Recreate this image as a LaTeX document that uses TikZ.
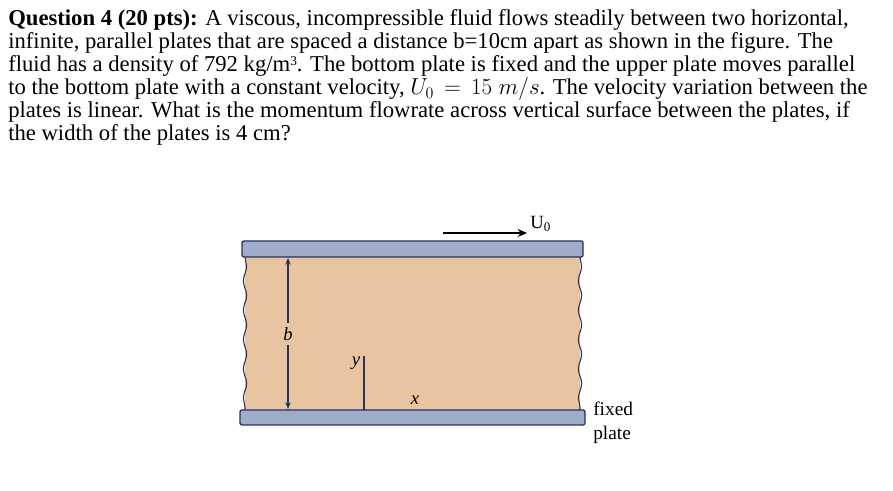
\documentclass[tikz,border=0pt]{standalone}
\usepackage{fontspec}
\setmainfont{Liberation Serif}
\usetikzlibrary{arrows.meta,decorations.pathmorphing}
\definecolor{fluid}{RGB}{233,196,160}
\definecolor{plate}{RGB}{160,172,204}
\definecolor{edge}{RGB}{40,50,90}
\tikzset{txt/.style={anchor=base west,inner sep=0pt,font=\fontsize{17}{19}\selectfont},
lab/.style={inner sep=0pt,font=\fontsize{14}{16}\selectfont},
platebox/.style={fill=plate,draw=edge,line width=1pt,rounded corners=1.5pt},
wav/.style={draw=edge,line width=0.8pt,decorate,decoration={snake,amplitude=1.2pt,segment length=22pt}}}
\begin{document}
\begin{tikzpicture}[x=0.75pt,y=-0.75pt]
\useasboundingbox[fill=white] (0,0) rectangle (893,491);
\node[txt] (l1) at (8,26) {\textbf{Question 4 (20 pts):} A viscous, incompressible fluid flows steadily between two horizontal,};
\node[txt] (l2) at (8,49) {infinite, parallel plates that are spaced a distance b=10cm apart as shown in the figure. The};
\node[txt] (l3) at (8,72) {fluid has a density of 792 kg/m\raisebox{0.3em}{\fontsize{10}{10}\selectfont 3}. The bottom plate is fixed and the upper plate moves parallel};
\node[txt] (l4) at (8,95) {to the bottom plate with a constant velocity, $U_0\,=\,15\;m/s$. The velocity variation between the};
\node[txt] (l5) at (8,118) {plates is linear. What is the momentum flowrate across vertical surface between the plates, if};
\node[txt] (l6) at (8,141) {the width of the plates is 4 cm?};
% fluid
\fill[fluid] (245,257) rectangle (580,410);
\draw[wav] (245,257) -- (245,410);
\draw[wav] (580,257) -- (580,410);
\draw[platebox] (242,241) rectangle (583,257);
\draw[platebox] (240,410) rectangle (585,425);
\coordinate (bt) at (288,258);
\coordinate (bb) at (288,409);
\node[lab,font=\fontsize{14}{16}\selectfont\itshape] (b) at (288,334) {b};
\draw[edge,line width=1pt,-{Stealth[length=5pt,width=4pt]},shorten <=3pt] (b.north) -- (bt);
\draw[edge,line width=1pt,-{Stealth[length=5pt,width=4pt]},shorten <=3pt] (b.south) -- (bb);
\coordinate (yo) at (364,410);
\coordinate (yt) at (364,356);
\draw[edge,line width=1pt] (yo) -- (yt);
\node[lab,font=\fontsize{14}{16}\selectfont\itshape] (y) at (356,363) {y};
\node[lab,font=\fontsize{14}{16}\selectfont\itshape] (x) at (415,400) {x};
\coordinate (ua) at (443,233);
\coordinate (ub) at (527,233);
\draw[line width=1.3pt,-{Stealth[length=7pt,width=6pt]}] (ua) -- (ub);
\node[lab,anchor=west] (u) at (530,224) {U\textsubscript{0}};
\node[lab,anchor=north west,align=left,font=\fontsize{14.5}{18}\selectfont] (fp) at (593,402) {fixed\\plate};
\end{tikzpicture}
\end{document}
